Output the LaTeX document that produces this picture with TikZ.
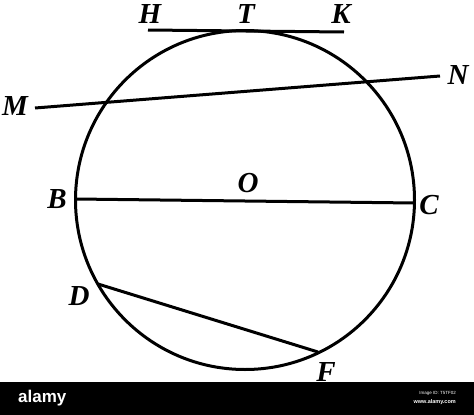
\documentclass[tikz,border=0pt]{standalone}
\usepackage{fontspec}
\setmainfont{Liberation Serif}
\newfontfamily\wmfont{Liberation Sans}
\begin{document}
\begin{tikzpicture}[x=1pt,y=-1pt,
  lbl/.style={font=\fontsize{29}{29}\selectfont\bfseries\itshape, inner sep=0pt},
  geo/.style={line width=3pt},
  wm/.style={text=white, inner sep=0pt}]
\useasboundingbox (0,0) rectangle (474,415);
\coordinate (O) at (245,200);
\draw[geo] (O) circle[radius=169.5];
% tangent
\coordinate (Hp) at (148,30);
\coordinate (Kp) at (344,32);
\draw[geo] (Hp) -- (Kp);
% secant
\coordinate (Mp) at (35,108);
\coordinate (Np) at (440,76);
\draw[geo] (Mp) -- (Np);
% diameter
\coordinate (Bp) at (75.5,199);
\coordinate (Cp) at (414.5,203);
\draw[geo] (Bp) -- (Cp);
% chord
\coordinate (Dp) at (98,284);
\coordinate (Fp) at (318,352);
\draw[geo] (Dp) -- (Fp);
% labels
\node[lbl] (H) at (150,14) {H};
\node[lbl] (T) at (246,14) {T};
\node[lbl] (K) at (341,14) {K};
\node[lbl] (M) at (15,106) {M};
\node[lbl] (N) at (458,75) {N};
\node[lbl] (B) at (57,199) {B};
\node[lbl] (Oc) at (248,183) {O};
\node[lbl] (C) at (429,205) {C};
\node[lbl] (D) at (79,296) {D};
\node[lbl] (F) at (326,372) {F};
% watermark bar
\fill[black] (0,382) rectangle (474,415);
\node[wm, font=\wmfont\bfseries\fontsize{17}{17}\selectfont, anchor=west] (al) at (18,398) {alamy};
\node[wm, font=\wmfont\fontsize{4.5}{5}\selectfont, anchor=east] (id) at (456,393) {Image ID: T5TF02};
\node[wm, font=\wmfont\bfseries\fontsize{5.5}{6}\selectfont, anchor=east] (www) at (456,402) {www.alamy.com};
\end{tikzpicture}
\end{document}
